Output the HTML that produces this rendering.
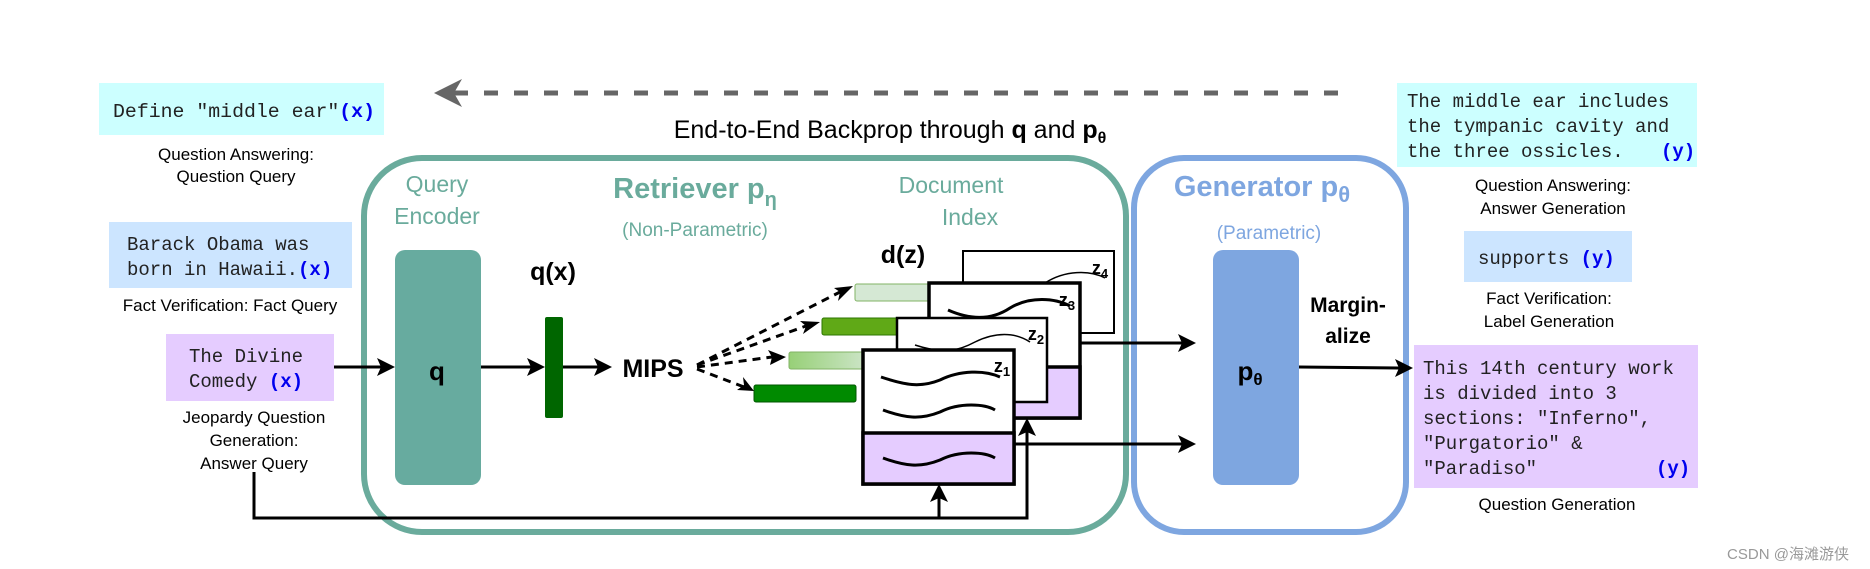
<!DOCTYPE html>
<html><head><meta charset="utf-8"><style>
html,body{margin:0;padding:0;background:#fff;}
svg{display:block;}
.lab{font-family:"Liberation Sans",sans-serif;font-size:17px;fill:#000;text-anchor:middle;}
.mono{font-family:"Liberation Mono",monospace;font-size:19px;fill:#222;}
.xb{font-family:"Liberation Mono",monospace;font-size:19px;fill:#0000ee;font-weight:bold;}
</style></head><body>
<svg width="1870" height="569" viewBox="0 0 1870 569" xmlns="http://www.w3.org/2000/svg">
<!-- dashed backprop arrow -->
<line x1="1338" y1="93" x2="452" y2="93" stroke="#666" stroke-width="5" stroke-dasharray="14,16"/>
<polygon points="434,93 462,79 454,93 462,107" fill="#666"/>
<text x="890" y="138" class="lab" style="font-size:25px">End-to-End Backprop through <tspan font-weight="bold">q</tspan> and <tspan font-weight="bold">p</tspan><tspan font-weight="bold" font-size="16" dy="5">θ</tspan></text>

<rect x="364" y="158" width="762" height="374" rx="58" fill="none" stroke="#6aab9c" stroke-width="6"/>
<rect x="1134" y="158" width="272" height="374" rx="50" fill="none" stroke="#7ea6e0" stroke-width="6"/>

<text x="437" y="192" class="lab" style="font-size:23px;fill:#6aab9c">Query</text>
<text x="437" y="224" class="lab" style="font-size:23px;fill:#6aab9c">Encoder</text>
<text x="695" y="198" class="lab" style="font-size:29px;fill:#6aab9c;font-weight:bold">Retriever p<tspan font-size="20" dy="8">η</tspan></text>
<text x="695" y="236" class="lab" style="font-size:19px;fill:#6aab9c">(Non-Parametric)</text>
<text x="951" y="193" class="lab" style="font-size:23px;fill:#6aab9c">Document</text>
<text x="970" y="225" class="lab" style="font-size:23px;fill:#6aab9c">Index</text>

<text x="1262" y="196" class="lab" style="font-size:29px;fill:#7ea6e0;font-weight:bold">Generator p<tspan font-size="22" dy="6">θ</tspan></text>
<text x="1269" y="239" class="lab" style="font-size:19px;fill:#7ea6e0">(Parametric)</text>

<rect x="395" y="250" width="86" height="235" rx="10" fill="#67ab9f"/>
<text x="437" y="380" class="lab" style="font-size:26px;font-weight:bold">q</text>
<rect x="1213" y="250" width="86" height="235" rx="10" fill="#7ea6e0"/>
<text x="1250" y="380" class="lab" style="font-size:26px;font-weight:bold">p<tspan font-size="17" dy="5">θ</tspan></text>
<text x="1348" y="312" class="lab" style="font-size:21px;font-weight:bold">Margin-</text>
<text x="1348" y="343" class="lab" style="font-size:21px;font-weight:bold">alize</text>

<rect x="545" y="317" width="18" height="101" rx="2" fill="#006600"/>
<text x="553" y="280" class="lab" style="font-size:25px;font-weight:bold">q(x)</text>
<text x="653" y="377" class="lab" style="font-size:25px;font-weight:bold">MIPS</text>
<text x="903" y="263" class="lab" style="font-size:25px;font-weight:bold">d(z)</text>

<g stroke="#000" stroke-width="3" fill="none">
<line x1="333" y1="367" x2="385" y2="367"/>
<line x1="481" y1="367" x2="535" y2="367"/>
<line x1="563" y1="367" x2="602" y2="367"/>
<line x1="1080" y1="343" x2="1185" y2="343"/>
<line x1="1014" y1="444" x2="1185" y2="444"/>
<line x1="1299" y1="367" x2="1403" y2="368"/>
<polyline points="254,472 254,518 1027,518 1027,428"/>
<line x1="939" y1="518" x2="939" y2="494"/>
</g>
<g fill="#000">
<polygon points="395,367 377,358 381,367 377,376"/>
<polygon points="545,367 527,358 531,367 527,376"/>
<polygon points="612,367 594,358 598,367 594,376"/>
<polygon points="1196,343 1178,334 1182,343 1178,352"/>
<polygon points="1196,444 1178,435 1182,444 1178,453"/>
<polygon points="1413,368 1395,359 1399,368 1395,377"/>
<polygon points="1027,418 1018,436 1027,432 1036,436"/>
<polygon points="939,484 930,502 939,498 948,502"/>
</g>

<defs><linearGradient id="lg" x1="0" x2="1"><stop offset="0" stop-color="#97d077"/><stop offset="1" stop-color="#d5e8d4"/></linearGradient></defs>
<rect x="855" y="284" width="90" height="17" rx="2" fill="#d5e8d4" stroke="#82b366" stroke-width="1"/>
<rect x="822" y="318" width="90" height="17" rx="2" fill="#60a917" stroke="#2d7600" stroke-width="1"/>
<rect x="789" y="352" width="90" height="17" rx="2" fill="url(#lg)" stroke="#82b366" stroke-width="1"/>
<rect x="754" y="385" width="102" height="17" rx="2" fill="#008a00" stroke="#005700" stroke-width="1"/>

<g stroke="#000" stroke-width="3" stroke-dasharray="8,6" fill="none">
<line x1="697" y1="365" x2="840" y2="292"/>
<line x1="697" y1="365" x2="806" y2="326"/>
<line x1="697" y1="367" x2="772" y2="357"/>
<line x1="697" y1="369" x2="744" y2="387"/>
</g>
<g fill="#000">
<polygon points="853,286 834,288 840,292 838,301"/>
<polygon points="820,322 800,321 806,326 803,334"/>
<polygon points="786,357 768,350 772,357 770,365"/>
<polygon points="754,391 743,377 744,385 737,390"/>
</g>

<g stroke="#000" fill="none">
<rect x="963" y="251" width="151" height="82" fill="#fff" stroke-width="2"/>
<path d="M983 282 C1010 295 1030 290 1045 283 C1065 270 1090 270 1105 278" stroke-width="1.5"/>
<rect x="929" y="283" width="151" height="135" fill="#fff" stroke-width="3.5"/>
<rect x="929" y="367" width="151" height="51" fill="#e5ccff" stroke-width="3.5"/>
<path d="M948 310 C975 322 995 318 1010 308 C1030 296 1055 298 1070 306" stroke-width="3"/>
<rect x="897" y="318" width="150" height="84" fill="#fff" stroke-width="2.5"/>
<path d="M915 345 C945 355 960 350 975 342 C995 332 1015 332 1030 342" stroke-width="1.5"/>
<rect x="863" y="350" width="151" height="134" fill="#fff" stroke-width="3.5"/>
<rect x="863" y="433" width="151" height="51" fill="#e5ccff" stroke-width="3.5"/>
<path d="M881 377 C905 385 920 388 940 380 C960 370 985 370 1000 377" stroke-width="3"/>
<path d="M883 410 C905 418 920 420 940 412 C960 402 985 404 995 410" stroke-width="3"/>
<path d="M883 458 C905 466 920 468 940 460 C960 450 985 452 995 458" stroke-width="3"/>
</g>
<text x="1002" y="372" class="lab" style="font-size:18px;font-weight:bold">z<tspan font-size="13" dy="4">1</tspan></text>
<text x="1036" y="340" class="lab" style="font-size:18px;font-weight:bold">z<tspan font-size="13" dy="4">2</tspan></text>
<text x="1067" y="306" class="lab" style="font-size:18px;font-weight:bold">z<tspan font-size="13" dy="4">3</tspan></text>
<text x="1100" y="274" class="lab" style="font-size:18px;font-weight:bold">z<tspan font-size="13" dy="4">4</tspan></text>

<rect x="99" y="83" width="285" height="52" fill="#ccffff"/>
<text x="113" y="117" class="mono" textLength="262" lengthAdjust="spacingAndGlyphs">Define "middle ear"<tspan class="xb">(x)</tspan></text>
<text x="236" y="160" class="lab">Question Answering:</text>
<text x="236" y="182" class="lab">Question Query</text>
<rect x="109" y="222" width="243" height="66" fill="#cce5ff"/>
<text x="127" y="250" class="mono">Barack Obama was</text>
<text x="127" y="275" class="mono">born in Hawaii.<tspan class="xb">(x)</tspan></text>
<text x="230" y="311" class="lab">Fact Verification: Fact Query</text>
<rect x="166" y="334" width="168" height="67" fill="#e5ccff"/>
<text x="189" y="362" class="mono">The Divine</text>
<text x="189" y="387" class="mono">Comedy <tspan class="xb">(x)</tspan></text>
<text x="254" y="423" class="lab">Jeopardy Question</text>
<text x="254" y="446" class="lab">Generation:</text>
<text x="254" y="469" class="lab">Answer Query</text>

<rect x="1397" y="83" width="300" height="84" fill="#ccffff"/>
<text x="1407" y="107" class="mono">The middle ear includes</text>
<text x="1407" y="132" class="mono">the tympanic cavity and</text>
<text x="1407" y="157" class="mono">the three ossicles.</text>
<text x="1661" y="157" class="xb">(y)</text>
<text x="1553" y="191" class="lab">Question Answering:</text>
<text x="1553" y="214" class="lab">Answer Generation</text>
<rect x="1464" y="231" width="168" height="51" fill="#cce5ff"/>
<text x="1478" y="264" class="mono">supports <tspan class="xb">(y)</tspan></text>
<text x="1549" y="304" class="lab">Fact Verification:</text>
<text x="1549" y="327" class="lab">Label Generation</text>
<rect x="1414" y="345" width="284" height="143" fill="#e5ccff"/>
<text x="1423" y="374" class="mono">This 14th century work</text>
<text x="1423" y="399" class="mono">is divided into 3</text>
<text x="1423" y="424" class="mono">sections: "Inferno",</text>
<text x="1423" y="449" class="mono">"Purgatorio" &amp;</text>
<text x="1423" y="474" class="mono">"Paradiso"</text>
<text x="1656" y="474" class="xb">(y)</text>
<text x="1557" y="510" class="lab">Question Generation</text>

<text x="1788" y="559" class="lab" style="font-size:15px;fill:#999">CSDN @海滩游侠</text>
</svg>
</body></html>
